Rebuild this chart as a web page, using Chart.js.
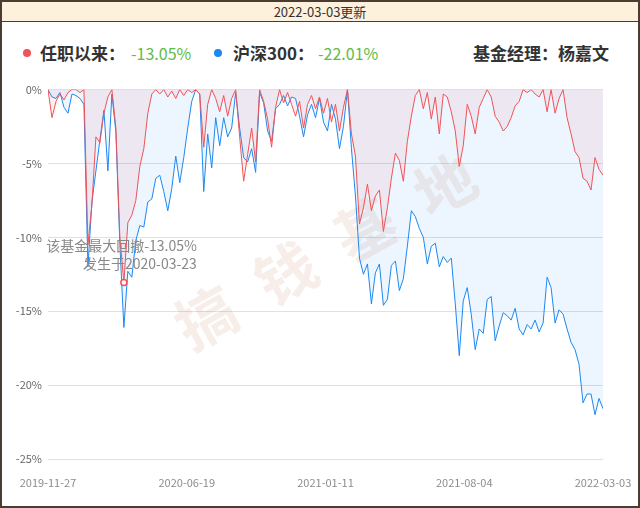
<!DOCTYPE html>
<html lang="zh">
<head>
    <meta charset="UTF-8">
    <title>最大回撤</title>
    <script src="https://cdn.jsdelivr.net/npm/chart.js"></script>
    <style>
        html, body { margin: 0; padding: 0; }
        body {
            width: 640px; height: 508px; box-sizing: border-box;
            border: 2px solid #4a3c30; background: #fff; position: relative;
            font-family: "Noto Sans CJK SC", "Noto Sans", sans-serif; overflow: hidden;
        }
        .head {
            height: 19px; line-height: 19px; text-align: center; font-size: 13px;
            color: #333; background: #fdf0dc; border-bottom: 1px solid #4a3c30;
        }
        .legend { position: absolute; top: 38px; left: 0; width: 636px; height: 26px; font-size: 17px; }
        .legend span { position: absolute; top: 0; line-height: 26px; white-space: nowrap; }
        .dot { width: 8px; height: 8px; border-radius: 50%; top: 9px !important; }
        .lbl { font-weight: bold; color: #333; }
        .val { color: #62bb45; font-size: 16px; }
        #wrap { position: absolute; left: 0; top: 75px; width: 636px; height: 422px; }
    </style>
</head>
<body>
    <div class="head">2022-03-03更新</div>
    <div class="legend">
        <span class="dot" style="left:21px;background:#ee5458"></span>
        <span class="lbl" style="left:38px">任职以来：</span>
        <span class="val" style="left:129px">-13.05%</span>
        <span class="dot" style="left:212px;background:#1e88f0"></span>
        <span class="lbl" style="left:231px">沪深300：</span>
        <span class="val" style="left:316px">-22.01%</span>
        <span class="lbl" style="right:29px">基金经理：杨嘉文</span>
    </div>
    <div id="wrap"><canvas id="ddChart"></canvas></div>
    <script>
        // drawdown in % (roughly one value every 4px)
        const fundDrawdown = [
            0, -1.9, -0.8, -0.3, -0.7, -0.2, 0, 0, -0.2, 0,
            -10.5, -7.8, -3.2, -3.6, -1.6, -0.5, 0, -2.6, -10.0, -13.05,
            -9.0, -8.5, -7.5, -5.2, -4.0, -1.6, -0.3, 0, -0.3, 0,
            -0.5, -0.1, -0.6, 0, -0.4, 0, -0.2, 0, -0.3, -3.9,
            -1.0, 0, -0.6, -1.5, -0.4, -1.8, -0.6, 0, -3.2, -6.2,
            -4.4, -2.6, -4.9, 0, -0.8, -2.0, -3.9, -1.2, 0, -0.9,
            -0.2, -1.0, -1.8, -0.8, -2.6, -1.0, -0.4, -1.3, -0.5, -1.6,
            -0.6, -2.2, -1.0, -2.8, -1.2, 0, -3.0, -4.5, -9.1, -8.0,
            -6.4, -8.2, -7.2, -6.8, -9.6, -8.0, -6.0, -4.3, -4.8, -6.2,
            -3.5, -1.8, -0.4, 0, -1.3, -0.2, -2.0, -0.5, -3.0, -0.3,
            -0.5, -1.5, -2.8, -5.2, -3.8, -1.0, -1.8, -3.0, -1.2, -0.6,
            0, -0.5, -1.8, -2.2, -2.8, -2.5, -1.9, -1.1, -0.8, 0,
            -0.2, 0, -0.3, -0.5, 0, -1.5, 0, -1.6, -0.6, 0,
            -1.9, -3.0, -4.2, -4.6, -6.0, -6.2, -6.8, -4.6, -5.4, -5.8
        ];
        const hs300Drawdown = [
            0, -0.5, -0.6, -0.2, -1.2, -1.6, -0.3, -0.4, -0.6, -1.0,
            -12.0, -7.6, -5.5, -3.4, -1.4, -5.5, -0.3, -2.9, -10.5, -16.1,
            -12.3, -12.7, -10.2, -9.2, -9.3, -7.6, -7.4, -6.0, -5.8, -6.9,
            -8.2, -6.7, -4.5, -6.3, -4.6, -2.6, -0.8, 0, -0.3, -6.9,
            -3.0, -5.3, -1.9, -3.8, -1.9, -3.2, -2.6, -0.2, -2.6, -4.6,
            -4.9, -4.0, -5.6, -0.2, -0.9, -2.8, -3.5, -1.3, -1.0, -0.4,
            -1.1, -0.5, -0.6, -1.8, -3.2, -1.7, -1.0, -1.9, -0.6, -2.2,
            -2.8, -1.0, -2.0, -4.0, -2.5, 0, -4.0, -7.2, -11.4, -12.5,
            -11.8, -14.5, -12.4, -11.8, -14.6, -14.2, -11.9, -11.6, -13.6, -12.8,
            -10.6, -8.2, -8.6, -9.4, -10.0, -11.8, -10.6, -10.4, -12.0, -11.3,
            -11.7, -11.4, -14.5, -18.0, -14.3, -13.4, -15.2, -17.6, -16.2, -16.5,
            -14.2, -14.0, -17.0, -16.0, -15.1, -15.3, -15.6, -14.8, -16.2, -16.6,
            -15.9, -16.2, -15.6, -16.4, -15.8, -12.7, -13.4, -15.8, -14.9, -15.2,
            -16.2, -17.1, -17.6, -18.6, -21.2, -20.6, -20.6, -22.0, -20.9, -21.6
        ];
        const tickLabels = ["2019-11-27", "2020-06-19", "2021-01-11", "2021-08-04", "2022-03-03"];
        const yTicks = [0, -5, -10, -15, -20, -25];
        const watermark = "搞钱基地";
        const noteLines = ["该基金最大回撤-13.05%", "发生于2020-03-23"];

        const n = fundDrawdown.length;
        const worstIdx = fundDrawdown.indexOf(Math.min(...fundDrawdown));
        const font = '"Noto Sans CJK SC", "Noto Sans", sans-serif';

        const decor = {
            id: "decor",
            beforeDatasetsDraw(chart) {
                const ctx = chart.ctx;
                const a = chart.chartArea;
                ctx.save();
                ctx.translate((a.left + a.right) / 2, (a.top + a.bottom) / 2 - 23);
                ctx.rotate(-29 * Math.PI / 180);
                ctx.font = "bold 60px " + font;
                ctx.fillStyle = "rgba(205, 140, 120, 0.16)";
                ctx.textAlign = "center";
                ctx.textBaseline = "middle";
                [...watermark].forEach((ch, i) => ctx.fillText(ch, (i - 1.5) * 91, 0));
                ctx.restore();
            },
            afterDatasetsDraw(chart) {
                const p = chart.getDatasetMeta(0).data[worstIdx];
                const ctx = chart.ctx;
                ctx.save();
                ctx.font = "14px " + font;
                ctx.fillStyle = "#888";
                ctx.textAlign = "right";
                ctx.textBaseline = "middle";
                ctx.fillText(noteLines[0], p.x + 73, p.y - 37);
                ctx.fillText(noteLines[1], p.x + 73, p.y - 19);
                ctx.restore();
            }
        };

        new Chart(document.getElementById("ddChart"), {
            type: "line",
            data: {
                datasets: [{
                    label: "任职以来",
                    data: fundDrawdown.map((v, i) => ({ x: i, y: v })),
                    borderColor: "#ee5458",
                    backgroundColor: "rgba(245, 90, 110, 0.09)",
                    borderWidth: 1,
                    fill: "origin",
                    tension: 0,
                    pointRadius: c => c.dataIndex === worstIdx ? 3 : 0,
                    pointBorderColor: "#ee5458",
                    pointBackgroundColor: "#fff",
                    pointBorderWidth: 1.5
                }, {
                    label: "沪深300",
                    data: hs300Drawdown.map((v, i) => ({ x: i, y: v })),
                    borderColor: "#1e88f0",
                    backgroundColor: "rgba(30, 130, 240, 0.08)",
                    borderWidth: 1,
                    fill: "origin",
                    tension: 0,
                    pointRadius: 0
                }]
            },
            options: {
                responsive: true,
                maintainAspectRatio: false,
                animation: false,
                layout: { padding: { top: 12, right: 35, left: 0, bottom: 0 } },
                plugins: { legend: { display: false }, tooltip: { enabled: false } },
                scales: {
                    x: {
                        type: "linear",
                        min: 0,
                        max: n - 1,
                        grid: { display: false, drawTicks: false },
                        border: { display: false },
                        afterBuildTicks: s => {
                            s.ticks = tickLabels.map((_, i) => ({ value: i * (n - 1) / (tickLabels.length - 1) }));
                        },
                        afterFit: s => { s.height = 40; s.paddingLeft = 0; s.paddingRight = 0; },
                        ticks: {
                            autoSkip: false,
                            maxRotation: 0,
                            padding: 17,
                            color: "#8c8c8c",
                            font: { size: 11, family: font },
                            callback: (v, i) => tickLabels[i]
                        }
                    },
                    y: {
                        min: -25,
                        max: 0,
                        afterBuildTicks: s => { s.ticks = yTicks.map(v => ({ value: v })); },
                        afterFit: s => { s.width = 46; },
                        grid: { color: "#e0e0e0", drawTicks: false },
                        border: { display: false },
                        ticks: {
                            padding: 6,
                            color: "#666",
                            font: { size: 11, family: font },
                            callback: v => v + "%"
                        }
                    }
                }
            },
            plugins: [decor]
        });
    </script>
</body>
</html>
